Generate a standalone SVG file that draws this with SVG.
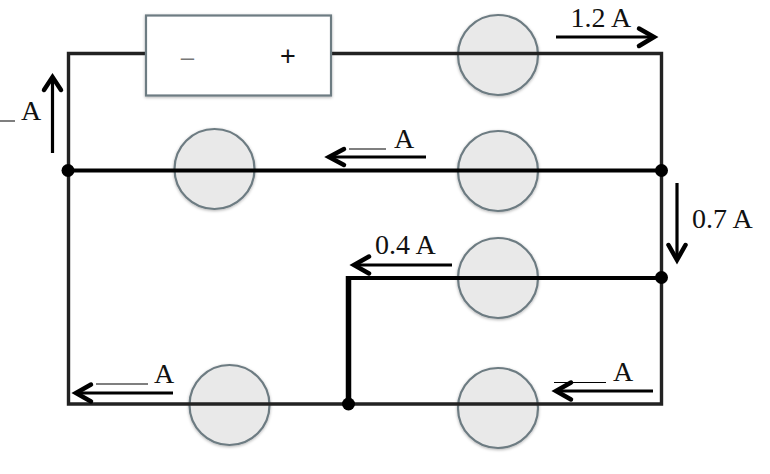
<svg xmlns="http://www.w3.org/2000/svg" width="770" height="474" viewBox="0 0 770 474">
<style>
.bulb{fill:#e9e9e9;stroke:#6d7b82;stroke-width:2.200;filter:url(#sh)}
.w{fill:none;stroke:#222;stroke-width:3.400}
.wb{fill:none;stroke:#000;stroke-width:4.200}
.ar{fill:none;stroke:#000;stroke-width:3.200}
.hd{fill:none;stroke:#000;stroke-width:4.500;stroke-linecap:round;stroke-linejoin:miter}
.bl{stroke:#000;stroke-width:1.200}
.t{font-family:"Liberation Serif",serif;font-size:28px;fill:#111}
.dot{fill:#000}
</style>
<defs>
<filter id="sh" x="-20%" y="-20%" width="140%" height="140%"><feDropShadow dx="0" dy="1" stdDeviation="1.500" flood-color="#000" flood-opacity="0.3"/></filter>
</defs>
<rect width="770" height="474" fill="#fff"/>
<g id="bulb1"><circle class="bulb" cx="498" cy="55" r="40"/></g>
<g id="bulb2"><circle class="bulb" cx="214.500" cy="169" r="40"/></g>
<g id="bulb3"><circle class="bulb" cx="498" cy="171" r="40"/></g>
<g id="bulb4"><circle class="bulb" cx="498" cy="278" r="40"/></g>
<g id="bulb5"><circle class="bulb" cx="229.500" cy="405" r="40"/></g>
<g id="bulb6"><circle class="bulb" cx="498" cy="408" r="40"/></g>
<g id="connectors">
<path class="w" d="M146 53.500H68.500V404H661.500V53.500H331"/>
<path class="wb" d="M68 170.500H661"/>
<path class="wb" d="M661 278H348"/>
<path d="M348.500 276V404" fill="none" stroke="#000" stroke-width="5.500"/>
<circle class="dot" cx="68" cy="170.500" r="6.500"/>
<circle class="dot" cx="661.500" cy="170.500" r="6.500"/>
<circle class="dot" cx="661.500" cy="277.500" r="6.500"/>
<circle class="dot" cx="348.500" cy="404" r="6.500"/>
</g>
<g id="battery">
<rect x="146" y="15.500" width="185" height="80" fill="#fff" stroke="#6d7b82" stroke-width="2.200" filter="url(#sh)"/>
<text x="187.500" y="65" text-anchor="middle" font-family="Liberation Sans,sans-serif" font-size="24" fill="#777">–</text>
<text x="288" y="64.500" text-anchor="middle" font-family="Liberation Sans,sans-serif" font-size="27" fill="#111">+</text>
</g>
<g id="current-arrows">
<path class="ar" d="M556 37H652"/><path class="hd" d="M639 28.500L654 37L639 46"/>
<path class="ar" d="M52.500 153V80"/><path class="hd" d="M44 90L52.500 77L61 90"/>
<path class="ar" d="M426 157H331"/><path class="hd" d="M344 149L329 157L344 165"/>
<path class="ar" d="M677 183V258"/><path class="hd" d="M668.500 245L677 260L685.500 245"/>
<path class="ar" d="M452 265H355"/><path class="hd" d="M369 256.500L354 265L369 273.500"/>
<path class="ar" d="M173 393H78"/><path class="hd" d="M91 384.500L76 393L91 401.500"/>
<path class="ar" d="M653 391H558"/><path class="hd" d="M571 382.500L556 391L571 399.500"/>
</g>
<g id="labels">
<text class="t" x="570.500" y="27">1.2 A</text>
<text class="t" x="692" y="228">0.7 A</text>
<text class="t" x="375" y="254">0.4 A</text>
<path class="bl" d="M0 121H15M349 149H386M96 384H148M554 382.500H606"/>
<text class="t" x="21" y="120">A</text>
<text class="t" x="394" y="148">A</text>
<text class="t" x="154" y="383">A</text>
<text class="t" x="613" y="381">A</text>
</g>
</svg>
